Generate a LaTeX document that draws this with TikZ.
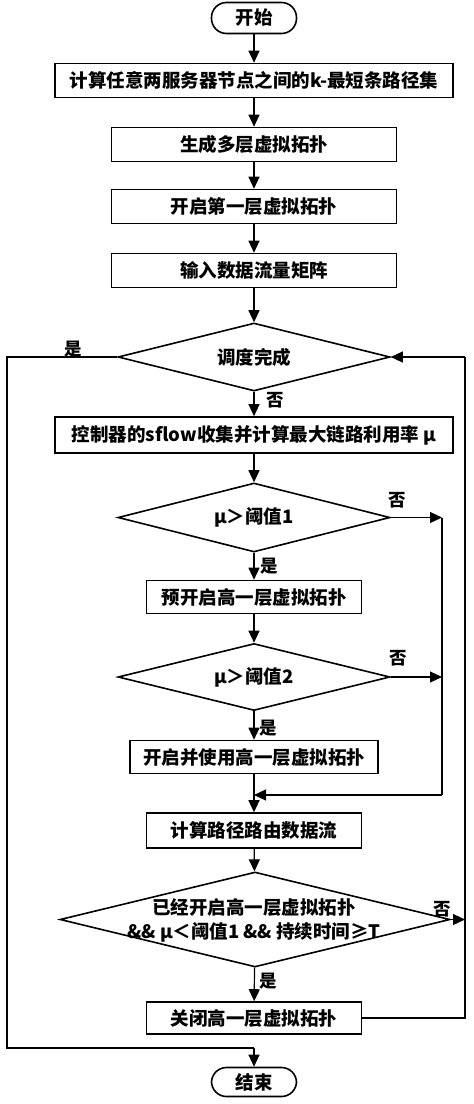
\documentclass[tikz,border=0pt]{standalone}
\usepackage{fontspec}
\setmainfont{Noto Sans CJK SC}
\usetikzlibrary{shapes.geometric,arrows.meta}
\begin{document}
\begin{tikzpicture}[x=1pt,y=-1pt,
  every node/.style={font=\fontsize{18.5}{22}\selectfont\bfseries},
  term/.style={draw,line width=1.6pt,rounded corners=15pt,minimum width=85pt,minimum height=31pt,inner sep=0pt},
  procbox/.style={draw,line width=1.6pt,minimum height=34pt,inner sep=0pt},
  decide/.style={draw,diamond,line width=1.6pt,inner sep=0pt,aspect=4,minimum width=272pt,minimum height=68pt},
  conn/.style={line width=1.2pt},
  arr/.style={line width=1.2pt,-{Triangle[length=12pt,width=11pt]}},
  lbl/.style={inner sep=0pt,font=\fontsize{17.5}{21}\selectfont\bfseries}
]
\useasboundingbox (0,0) rectangle (474,1104);
% nodes
\node[term] (start) at (254,18) {开始};
\node[procbox,minimum width=398pt] (b1) at (254,80.5) {计算任意两服务器节点之间的k-最短条路径集};
\node[procbox,minimum width=285pt] (b2) at (254,144.5) {生成多层虚拟拓扑};
\node[procbox,minimum width=285pt] (b3) at (254,206.5) {开启第一层虚拟拓扑};
\node[procbox,minimum width=285pt] (b4) at (254,270.5) {输入数据流量矩阵};
\node[decide] (d1) at (254,357) {调度完成};
\node[procbox,minimum width=398pt,minimum height=36pt] (b5) at (254,435) {控制器的sflow收集并计算最大链路利用率 μ};
\node[decide,minimum height=69pt] (d2) at (254,517.5) {μ＞阈值1};
\node[procbox,minimum width=215pt,minimum height=33pt] (b6) at (254,597) {预开启高一层虚拟拓扑};
\node[decide,minimum height=67pt] (d3) at (254,677) {μ＞阈值2};
\node[procbox,minimum width=248pt,minimum height=33pt] (b7) at (254,757) {开启并使用高一层虚拟拓扑};
\node[procbox,minimum width=215pt,minimum height=35pt] (b8) at (254,830.5) {计算路径路由数据流};
\node[draw,diamond,line width=1.6pt,inner sep=0pt,aspect=4.1,minimum width=390pt,minimum height=95pt] (d4) at (255,919.5) {};
\node[lbl,align=center,font=\fontsize{18.5}{22}\selectfont\bfseries] (d4t) at (254,920) {已经开启高一层虚拟拓扑\\[2pt]\&\& μ＜阈值1 \&\& 持续时间≥T};
\node[procbox,minimum width=215pt,minimum height=32pt] (b9) at (254,1018) {关闭高一层虚拟拓扑};
\node[term,minimum height=29pt] (stop) at (254,1082) {结束};
% coordinates
\coordinate (r1) at (442,517.5);
\coordinate (r2) at (442,677);
\coordinate (r3) at (442,795);
\coordinate (m3) at (254,795);
\coordinate (q1) at (465,919.5);
\coordinate (q2) at (465,1018);
\coordinate (q3) at (465,357);
\coordinate (l1) at (7,357);
\coordinate (l2) at (7,1048);
\coordinate (l3) at (254,1048);
% main flow
\draw[arr] (start) -- (b1);
\draw[arr] (b1) -- (b2);
\draw[arr] (b2) -- (b3);
\draw[arr] (b3) -- (b4);
\draw[arr] (b4) -- (d1);
\draw[arr] (d1) -- (b5);
\draw[arr] (b5) -- (d2);
\draw[arr] (d2) -- (b6);
\draw[arr] (b6) -- (d3);
\draw[arr] (d3) -- (b7);
\draw[arr] (b7) -- (b8);
\draw[arr] (b8) -- (d4);
\draw[arr] (d4) -- (b9);
% side branches
\draw[arr] (d2.east) -- (r1);
\draw[arr] (d3.east) -- (r2);
\draw[conn] (r1) -- (r3);
\draw[arr] (r3) -- (m3);
\draw[arr] (d4.east) -- (q1);
\draw[conn] (b9.east) -- (q2) -- (q3);
\draw[arr] (q3) -- (d1.east);
\draw[conn] (d1.west) -- (l1) -- (l2) -- (l3);
\draw[arr] (l3) -- (stop);
% labels
\node[lbl] (y1) at (73,349) {是};
\node[lbl] (n1) at (275,400) {否};
\node[lbl] (n2) at (397,500) {否};
\node[lbl] (y2) at (269,566) {是};
\node[lbl] (n3) at (398,658) {否};
\node[lbl] (y3) at (268,728) {是};
\node[lbl] (n4) at (442,909) {否};
\node[lbl] (y4) at (268,981) {是};
\end{tikzpicture}
\end{document}
